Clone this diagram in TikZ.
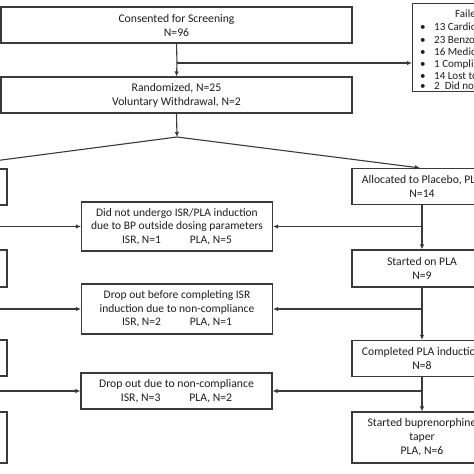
\documentclass[tikz,border=0pt]{standalone}
\usepackage{fontspec}
\setmainfont{Carlito}
\usetikzlibrary{arrows.meta}
\definecolor{ln}{HTML}{3A3A3A}
\definecolor{tx}{HTML}{1E1E1E}
\tikzset{
  box/.style={draw=ln, line width=1.1pt, rectangle, inner sep=0pt, align=center,
    font=\fontsize{11.7}{14}\selectfont, text=tx},
  conn/.style={draw=ln, line width=1.1pt, -{Latex[length=5pt,width=4.5pt]}},
  plain/.style={draw=ln, line width=1.1pt},
  ftext/.style={font=\fontsize{11}{12}\selectfont, text=tx, anchor=base west, inner sep=0pt}
}
\begin{document}
\begin{tikzpicture}[x=1pt,y=-1pt]
\useasboundingbox (0,0) rectangle (474,474);
\fill[white] (0,0) rectangle (474,474);
\clip (0,0) rectangle (474,474);
% top boxes
\node[box, minimum width=351pt, minimum height=36pt] (consent) at (176.5,25) {Consented for Screening\\N=96};
\node[box, minimum width=351pt, minimum height=36pt] (rand) at (176.5,95) {Randomized, N=25\\Voluntary Withdrawal, N=2};
% failed screening box
\node[draw=ln, line width=1.1pt, anchor=north west, minimum width=150pt, minimum height=88pt, inner sep=0pt] (fail) at (412,3) {};
\node[ftext] (ft0) at (455,17) {Failed Screening, N=71};
\foreach \yy/\txt [count=\i] in {30/13 Cardiovascular, 43/23 Benzodiazepine use, 55.5/16 Medical, 67/1 Compliance, 79/14 Lost to follow-up, 89/2\ \ Did not meet criteria}{
  \node[ftext] (fb\i) at (420,\yy) {\textbullet};
  \node[ftext] (fl\i) at (434,\yy) {\txt};
}
\coordinate (split) at (177,63);
\draw[plain] (consent.south) -- (split);
\draw[conn] (split) -- (rand.north);
\draw[conn] (split) -- (fail.west |- split);
% apex
\coordinate (apex) at (177,137);
\draw[conn] (rand.south) -- (apex);
% right column
\node[box, minimum width=140pt, minimum height=36pt] (pla) at (422,186.5) {Allocated to Placebo, PLA\\N=14};
\node[box, minimum width=140pt, minimum height=37pt] (spla) at (422,268.5) {Started on PLA\\N=9};
\node[box, minimum width=140pt, minimum height=36pt] (cpla) at (422,358.5) {Completed PLA induction\\N=8};
\node[box, minimum width=140pt, minimum height=51pt] (tpla) at (422,437.5) {Started buprenorphine\\taper\\PLA, N=6};
% left column (mostly off-picture)
\node[box, minimum width=140pt, minimum height=36pt] (isr) at (-63,187) {};
\node[box, minimum width=140pt, minimum height=37pt] (sisr) at (-63,268.5) {};
\node[box, minimum width=140pt, minimum height=36pt] (cisr) at (-63,358) {};
\node[box, minimum width=140pt, minimum height=51pt] (tisr) at (-63,437.5) {};
\draw[plain] (apex) -- (isr.north);
\draw[conn] (apex) -- ([xshift=-2pt]pla.north);
% middle boxes
\node[box, minimum width=191pt, minimum height=49pt, font=\fontsize{11.5}{13.5}\selectfont] (bpA) at (177,226.5) {Did not undergo ISR/PLA induction\\due to BP outside dosing parameters\\ISR, N=1\hspace{29pt}PLA, N=5};
\node[box, minimum width=191pt, minimum height=50pt, font=\fontsize{11.5}{13.5}\selectfont] (bpB) at (177,309) {Drop out before completing ISR\\induction due to non-compliance\\ISR, N=2\hspace{29pt}PLA, N=1};
\node[box, minimum width=191pt, minimum height=36pt] (bpC) at (176.5,391) {Drop out due to non-compliance\\ISR, N=3\hspace{29pt}PLA, N=2};
% right verticals and side arrows
\coordinate (r1) at (pla.south |- bpA.east);
\coordinate (r2) at (spla.south |- bpB.east);
\coordinate (r3) at (cpla.south |- bpC.east);
\draw[plain] (pla.south) -- (r1);
\draw[conn] (r1) -- (spla.north);
\draw[conn] (r1) -- (bpA.east);
\draw[plain] (spla.south) -- (r2);
\draw[conn] (r2) -- (cpla.north);
\draw[conn] (r2) -- (bpB.east);
\draw[plain] (cpla.south) -- (r3);
\draw[conn] (r3) -- (tpla.north);
\draw[conn] (r3) -- (bpC.east);
% left verticals and side arrows
\coordinate (l1) at (isr.south |- bpA.west);
\coordinate (l2) at (sisr.south |- bpB.west);
\coordinate (l3) at (cisr.south |- bpC.west);
\draw[plain] (isr.south) -- (l1);
\draw[conn] (l1) -- (sisr.north);
\draw[conn] (l1) -- (bpA.west);
\draw[plain] (sisr.south) -- (l2);
\draw[conn] (l2) -- (cisr.north);
\draw[conn] (l2) -- (bpB.west);
\draw[plain] (cisr.south) -- (l3);
\draw[conn] (l3) -- (tisr.north);
\draw[conn] (l3) -- (bpC.west);
\end{tikzpicture}
\end{document}
